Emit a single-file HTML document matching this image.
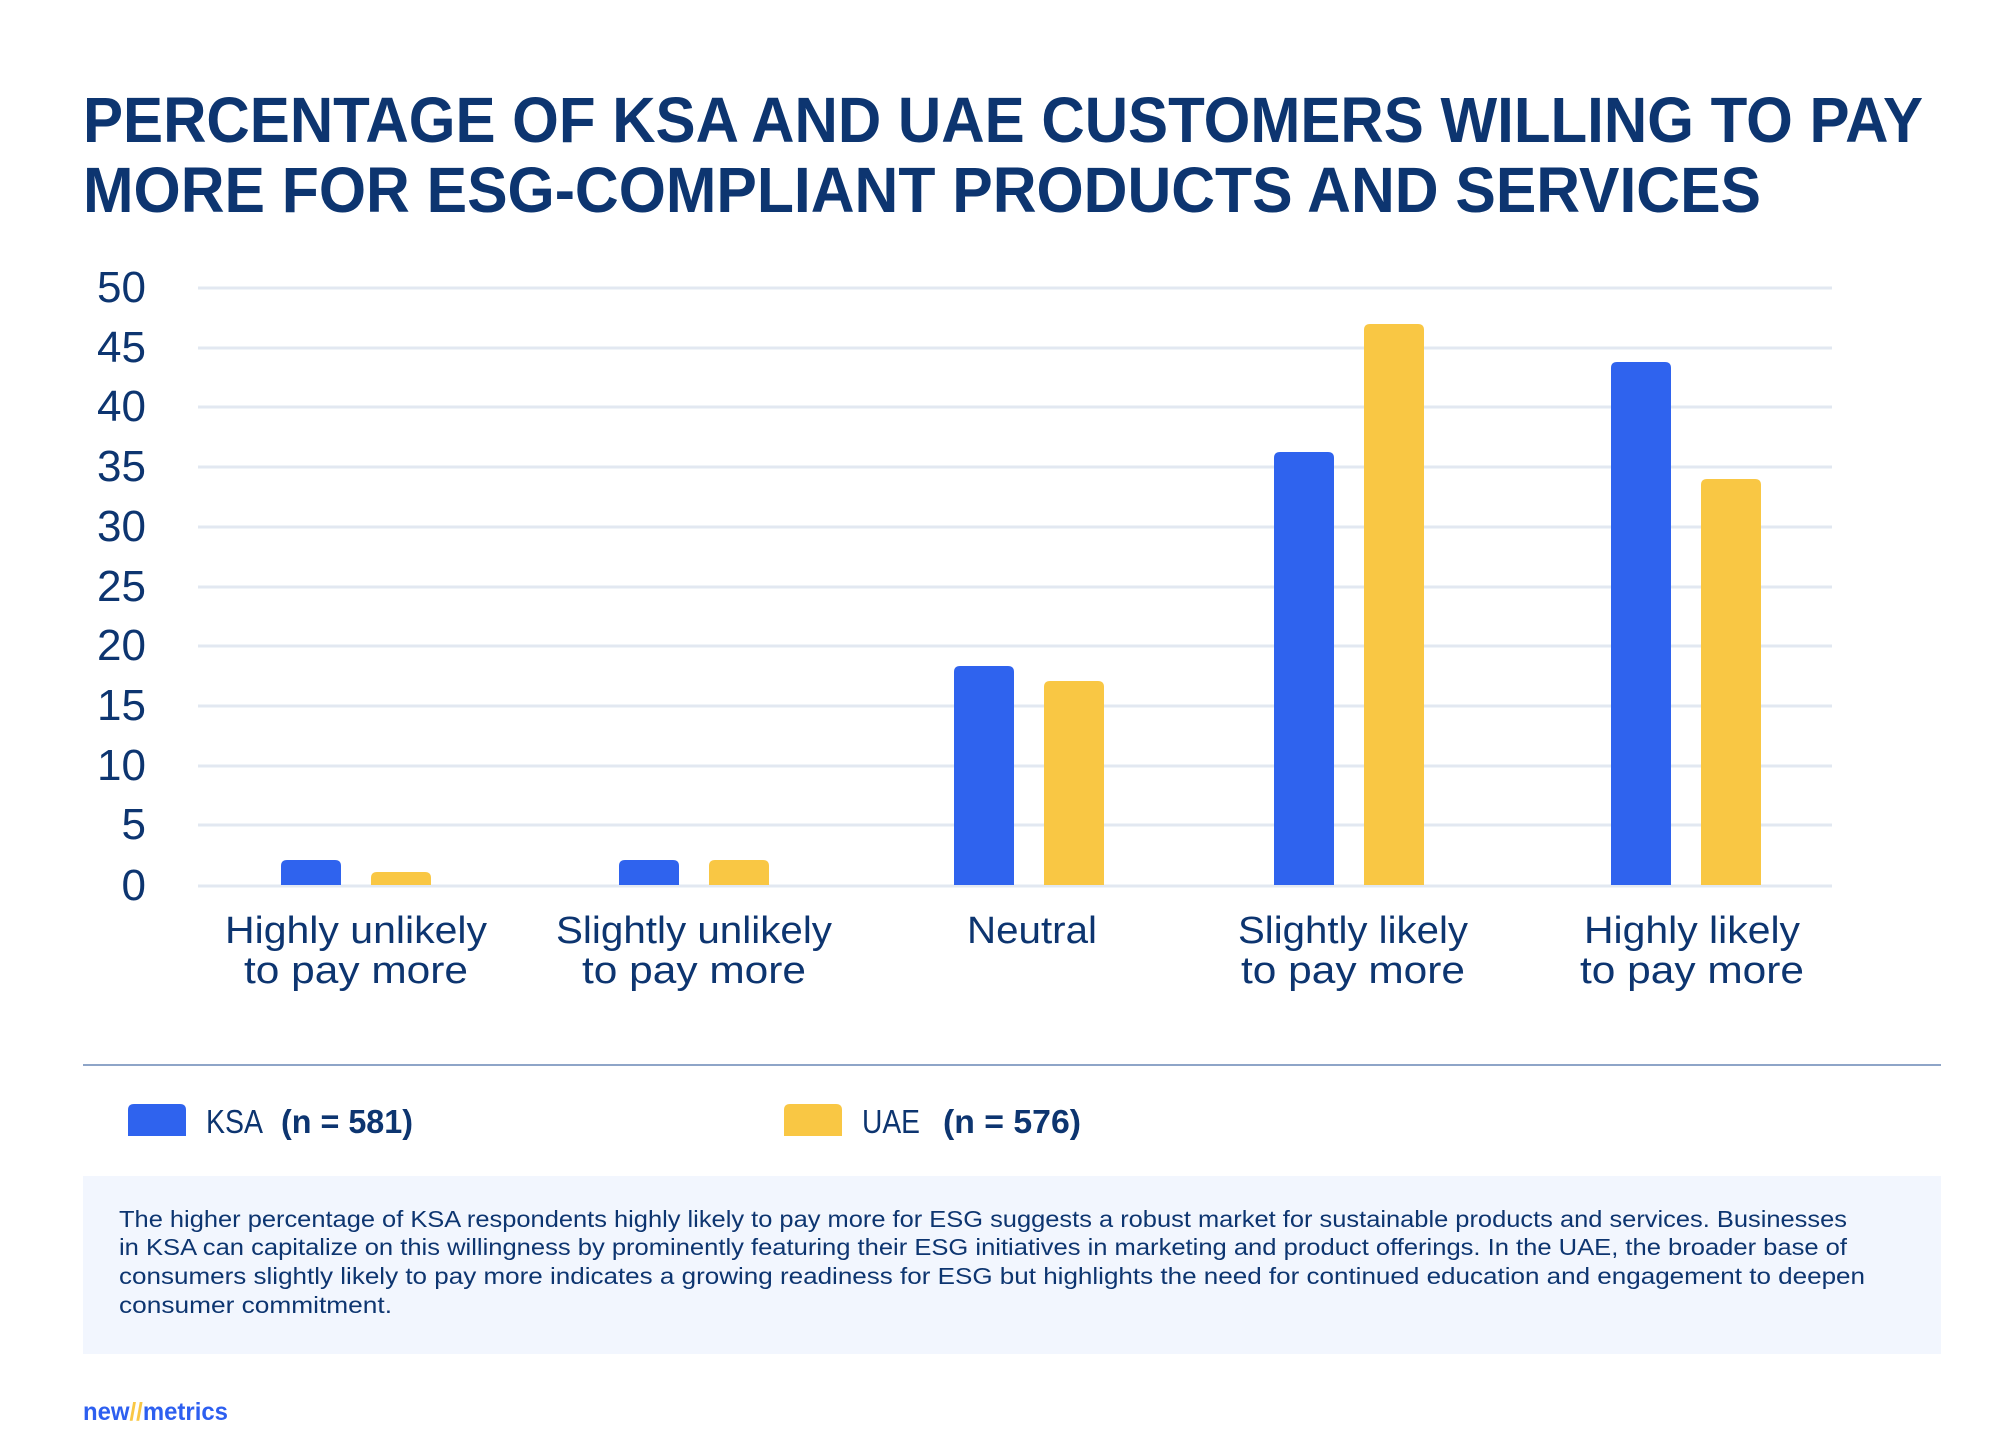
<!DOCTYPE html>
<html><head><meta charset="utf-8"><style>
html,body{margin:0;padding:0;background:#fff;}
svg{display:block;}
text{font-family:"Liberation Sans",sans-serif;fill:#0d3570;}
</style></head><body>
<svg width="2000" height="1453" viewBox="0 0 2000 1453" xmlns="http://www.w3.org/2000/svg">
<rect width="2000" height="1453" fill="#fff"/>
<g font-weight="bold" font-size="64">
<text x="83" y="142" textLength="1840" lengthAdjust="spacingAndGlyphs">PERCENTAGE OF KSA AND UAE CUSTOMERS WILLING TO PAY</text>
<text x="83" y="212" textLength="1678" lengthAdjust="spacingAndGlyphs">MORE FOR ESG-COMPLIANT PRODUCTS AND SERVICES</text>
</g>
<g stroke="#e2e8f1" stroke-width="3">
<line x1="198" x2="1832" y1="288" y2="288"/>
<line x1="198" x2="1832" y1="348" y2="348"/>
<line x1="198" x2="1832" y1="407" y2="407"/>
<line x1="198" x2="1832" y1="467" y2="467"/>
<line x1="198" x2="1832" y1="527" y2="527"/>
<line x1="198" x2="1832" y1="587" y2="587"/>
<line x1="198" x2="1832" y1="646" y2="646"/>
<line x1="198" x2="1832" y1="706" y2="706"/>
<line x1="198" x2="1832" y1="766" y2="766"/>
<line x1="198" x2="1832" y1="825" y2="825"/>
<line x1="198" x2="1832" y1="886" y2="886"/>
</g>
<g font-size="44" text-anchor="end">
<text x="146" y="302">50</text>
<text x="146" y="362">45</text>
<text x="146" y="421">40</text>
<text x="146" y="481">35</text>
<text x="146" y="541">30</text>
<text x="146" y="601">25</text>
<text x="146" y="660">20</text>
<text x="146" y="720">15</text>
<text x="146" y="780">10</text>
<text x="146" y="839">5</text>
<text x="146" y="900">0</text>
</g>
<g>
<path d="M281,885 V866 q0,-6 6,-6 h48 q6,0 6,6 V885 Z" fill="#2f63ee"/>
<path d="M371,885 V878 q0,-6 6,-6 h48 q6,0 6,6 V885 Z" fill="#f9c744"/>
<path d="M619,885 V866 q0,-6 6,-6 h48 q6,0 6,6 V885 Z" fill="#2f63ee"/>
<path d="M709,885 V866 q0,-6 6,-6 h48 q6,0 6,6 V885 Z" fill="#f9c744"/>
<path d="M954,885 V672 q0,-6 6,-6 h48 q6,0 6,6 V885 Z" fill="#2f63ee"/>
<path d="M1044,885 V687 q0,-6 6,-6 h48 q6,0 6,6 V885 Z" fill="#f9c744"/>
<path d="M1274,885 V458 q0,-6 6,-6 h48 q6,0 6,6 V885 Z" fill="#2f63ee"/>
<path d="M1364,885 V330 q0,-6 6,-6 h48 q6,0 6,6 V885 Z" fill="#f9c744"/>
<path d="M1611,885 V368 q0,-6 6,-6 h48 q6,0 6,6 V885 Z" fill="#2f63ee"/>
<path d="M1701,885 V485 q0,-6 6,-6 h48 q6,0 6,6 V885 Z" fill="#f9c744"/>
</g>
<g font-size="38" text-anchor="middle">
<text x="356" y="943" textLength="262" lengthAdjust="spacingAndGlyphs">Highly unlikely</text>
<text x="356" y="983" textLength="224" lengthAdjust="spacingAndGlyphs">to pay more</text>
<text x="694" y="943" textLength="276" lengthAdjust="spacingAndGlyphs">Slightly unlikely</text>
<text x="694" y="983" textLength="224" lengthAdjust="spacingAndGlyphs">to pay more</text>
<text x="1032" y="943" textLength="130" lengthAdjust="spacingAndGlyphs">Neutral</text>
<text x="1353" y="943" textLength="230" lengthAdjust="spacingAndGlyphs">Slightly likely</text>
<text x="1353" y="983" textLength="224" lengthAdjust="spacingAndGlyphs">to pay more</text>
<text x="1692" y="943" textLength="216" lengthAdjust="spacingAndGlyphs">Highly likely</text>
<text x="1692" y="983" textLength="224" lengthAdjust="spacingAndGlyphs">to pay more</text>
</g>
<line x1="83" x2="1941" y1="1065" y2="1065" stroke="#8ea5c8" stroke-width="2"/>
<path d="M128,1136 V1110 q0,-6 6,-6 h46 q6,0 6,6 V1136 Z" fill="#2f63ee"/>
<text x="206" y="1133" font-size="33" textLength="57" lengthAdjust="spacingAndGlyphs">KSA</text>
<text x="281" y="1133" font-size="33" font-weight="bold" textLength="132" lengthAdjust="spacingAndGlyphs">(n = 581)</text>
<path d="M784,1136 V1110 q0,-6 6,-6 h46 q6,0 6,6 V1136 Z" fill="#f9c744"/>
<text x="862" y="1133" font-size="33" textLength="58" lengthAdjust="spacingAndGlyphs">UAE</text>
<text x="943" y="1133" font-size="33" font-weight="bold" textLength="138" lengthAdjust="spacingAndGlyphs">(n = 576)</text>
<rect x="83" y="1176" width="1858" height="178" fill="#f2f6fe"/>
<g font-size="23">
<text x="119" y="1227" textLength="1728" lengthAdjust="spacingAndGlyphs">The higher percentage of KSA respondents highly likely to pay more for ESG suggests a robust market for sustainable products and services. Businesses</text>
<text x="119" y="1255" textLength="1728" lengthAdjust="spacingAndGlyphs">in KSA can capitalize on this willingness by prominently featuring their ESG initiatives in marketing and product offerings. In the UAE, the broader base of</text>
<text x="119" y="1284" textLength="1746" lengthAdjust="spacingAndGlyphs">consumers slightly likely to pay more indicates a growing readiness for ESG but highlights the need for continued education and engagement to deepen</text>
<text x="119" y="1313" textLength="273" lengthAdjust="spacingAndGlyphs">consumer commitment.</text>
</g>
<text x="83" y="1420" font-size="25" font-weight="bold" style="fill:#2d5ff0" textLength="145" lengthAdjust="spacingAndGlyphs">new<tspan style="fill:#f9c744">//</tspan>metrics</text>
</svg>
</body></html>
